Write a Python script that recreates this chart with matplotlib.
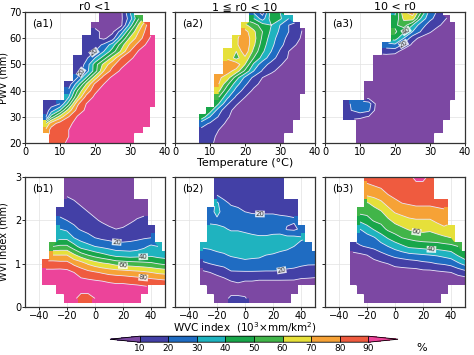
import numpy as np
import matplotlib
matplotlib.use('Agg')
import matplotlib.pyplot as plt
from matplotlib.colors import ListedColormap, BoundaryNorm

plt.rcParams['font.family'] = ['DejaVu Sans', 'Noto Sans CJK JP']

n = np.nan

# --- 上段: 温度 (°C) x PWV (mm), 出现频率 (%) ---
temp = [6, 7.5, 10, 12.5, 15, 17.5, 20, 22.5, 25, 27.5, 30, 32.5, 35, 36.5]
pwv = [20, 22.5, 25, 27.5, 30, 32.5, 35, 37.5, 40, 42.5, 45, 47.5, 50,
       52.5, 55, 57.5, 60, 62.5, 65, 67.5, 70]

a1 = [
    [n, 85, 87, 92, 98, 98, 98, 98, 98, 98, 98, n, n, n],
    [n, 84, 86, 90, 96, 98, 98, 98, 98, 98, 98, n, n, n],
    [72, 84, 86, 90, 95, 98, 98, 98, 98, 98, 98, 98, n, n],
    [60, 75, 84, 88, 93, 98, 98, 98, 98, 98, 98, 98, 98, n],
    [20, 45, 65, 80, 91, 95, 98, 98, 98, 98, 98, 98, 98, n],
    [15, 25, 40, 65, 84, 92, 98, 98, 98, 98, 98, 98, 98, n],
    [12, 15, 20, 45, 78, 90, 95, 98, 98, 98, 98, 98, 98, 98],
    [n, n, n, 30, 60, 84, 92, 95, 98, 98, 98, 98, 98, 98],
    [n, n, n, 22, 50, 72, 88, 94, 98, 98, 98, 98, 98, 98],
    [n, n, n, 15, 35, 60, 82, 90, 95, 98, 98, 98, 98, 98],
    [n, n, n, n, 20, 40, 65, 84, 92, 96, 98, 98, 98, 98],
    [n, n, n, n, 15, 25, 45, 70, 84, 92, 96, 98, 98, 98],
    [n, n, n, n, 12, 23, 45, 63, 77, 87, 93, 96, 98, 98],
    [n, n, n, n, 12, 18, 30, 45, 63, 80, 88, 94, 97, 98],
    [n, n, n, n, n, 15, 20, 30, 45, 62, 80, 91, 96, 98],
    [n, n, n, n, n, 15, 15, 22, 35, 55, 72, 84, 92, 96],
    [n, n, n, n, n, 14, 12, 8, 15, 40, 62, 75, 88, 93],
    [n, n, n, n, n, n, 12, 8, 8, 25, 50, 70, 85, n],
    [n, n, n, n, n, n, 8, 6, 6, 8, 35, 62, 82, n],
    [n, n, n, n, n, n, n, 5, 5, 8, 25, 50, n, n],
    [n, n, n, n, n, n, n, 5, 5, 8, 30, n, n, n],
]

a2 = [
    [n, 15, 12, 7, 4, 3, 3, 3, 3, 3, 3, n, n, n],
    [n, 16, 13, 8, 4, 3, 3, 3, 3, 3, 3, n, n, n],
    [n, 18, 15, 10, 5, 3, 3, 3, 3, 3, 3, 3, n, n],
    [n, 24, 19, 14, 8, 4, 3, 3, 3, 3, 3, 3, n, n],
    [n, 48, 30, 19, 11, 6, 3, 3, 3, 3, 3, 3, 3, n],
    [n, n, 45, 24, 13, 7, 4, 3, 3, 3, 3, 3, 3, n],
    [n, n, n, 40, 21, 11, 6, 3, 3, 3, 3, 3, 3, n],
    [n, n, n, 50, 32, 18, 10, 5, 3, 3, 3, 3, 3, n],
    [n, n, n, 62, 42, 26, 16, 8, 4, 3, 3, 3, 3, 3],
    [n, n, n, 70, 52, 34, 22, 13, 7, 3, 3, 3, 3, 3],
    [n, n, n, 72, 65, 45, 28, 18, 10, 6, 3, 3, 3, 3],
    [n, n, n, n, 74, 66, 48, 30, 19, 12, 7, 3, 3, 3],
    [n, n, n, n, 77, 77, 60, 38, 24, 17, 11, 6, 3, 3],
    [n, n, n, n, 68, 56, 68, 50, 36, 24, 16, 9, 4, 3],
    [n, n, n, n, 66, 60, 77, 57, 42, 30, 19, 10, 6, 3],
    [n, n, n, n, n, 68, 78, 62, 45, 33, 23, 15, 9, 5],
    [n, n, n, n, n, 68, 77, 64, 48, 35, 25, 17, 12, 8],
    [n, n, n, n, n, n, 74, 62, 50, 38, 28, 20, 14, 9],
    [n, n, n, n, n, n, 62, 55, 45, 40, 30, 20, 15, n],
    [n, n, n, n, n, n, n, 40, 25, 45, 42, 30, n, n],
    [n, n, n, n, n, n, n, 28, 15, 45, 40, n, n, n],
]

a3 = [
    [n, n, 2, 2, 2, 2, 2, 2, 2, 2, 2, n, n, n],
    [n, n, 2, 2, 2, 2, 2, 2, 2, 2, 2, n, n, n],
    [n, n, 2, 2, 2, 2, 2, 2, 2, 2, 2, 2, n, n],
    [n, n, 4, 3, 2, 2, 2, 2, 2, 2, 2, 2, n, n],
    [11, 13, 12, 9, 3, 2, 2, 2, 2, 2, 2, 2, 2, n],
    [15, 20, 25, 22, 4, 2, 2, 2, 2, 2, 2, 2, 2, n],
    [12, 22, 28, 25, 5, 2, 2, 2, 2, 2, 2, 2, 2, n],
    [n, n, n, 6, 3, 2, 2, 2, 2, 2, 2, 2, 2, 2],
    [n, n, n, 3, 2, 2, 2, 2, 2, 2, 2, 2, 2, 2],
    [n, n, n, 3, 2, 2, 2, 2, 2, 2, 2, 2, 2, 2],
    [n, n, n, n, 2, 2, 2, 2, 2, 2, 2, 2, 2, 2],
    [n, n, n, n, 2, 2, 2, 2, 2, 2, 2, 2, 2, 2],
    [n, n, n, n, 3, 2, 2, 2, 2, 2, 2, 2, 2, 2],
    [n, n, n, n, 3, 4, 3, 2, 2, 2, 2, 2, 2, 2],
    [n, n, n, n, n, 15, 14, 5, 3, 2, 2, 2, 2, 2],
    [n, n, n, n, n, 25, 28, 18, 8, 3, 2, 2, 2, 2],
    [n, n, n, n, n, n, 45, 30, 14, 7, 4, 2, 2, 2],
    [n, n, n, n, n, n, 52, 42, 30, 19, 11, 5, 3, 2],
    [n, n, n, n, n, n, 48, 55, 40, 24, 16, 11, 6, 3],
    [n, n, n, n, n, n, 42, 62, 65, 38, 22, 16, 9, n],
    [n, n, n, n, n, n, 38, 68, 76, 50, 25, 18, n, n],
]

# --- 下段: WVC index x WVI index ---
wvc = [-35, -30, -25, -20, -15, -10, -5, 0, 5, 10, 15, 20, 25, 30, 35, 40, 45, 50]
wvi = [0.2, 0.4, 0.6, 0.8, 1.0, 1.2, 1.4, 1.6, 1.8, 2.0, 2.2, 2.4, 2.6, 2.8, 3.0]

b1 = [
    [n, n, n, 95, 92, 86, 86, 90, 94, 95, 95, 95, 95, 94, n, n, n, n],
    [n, n, 97, 96, 95, 93, 93, 94, 95, 95, 95, 95, 95, 95, 94, n, n, n],
    [95, 96, 96, 95, 94, 93, 92, 91, 90, 89, 88, 88, 87, 86, 85, 84, 83, 82],
    [93, 93, 94, 93, 90, 85, 83, 81, 79, 77, 76, 75, 74, 73, 72, 70, 68, 67],
    [85, 85, 84, 84, 78, 75, 69, 65, 62, 60, 57, 56, 55, 54, 53, 52, 50, 48],
    [n, 70, 70, 70, 62, 55, 50, 46, 43, 40, 37, 36, 35, 36, 37, 38, 36, 35],
    [n, 50, 52, 52, 44, 36, 33, 30, 28, 26, 24, 24, 24, 25, 28, 32, 30, n],
    [n, n, 37, 37, 30, 26, 23, 20, 18, 17, 16, 16, 17, 18, 19, 20, n, n],
    [n, n, 30, 28, 22, 19, 17, 15, 13, 11, 10, 10.5, 12, 13, 14, 15, n, n],
    [n, n, 22, 20, 18, 15, 14, 11, 9, 8, 8, 8, 9, 10.5, 11, n, n, n],
    [n, n, 17, 17, 15, 12, 10, 8, 7, 6, 6, 6, 7, 8, 9, n, n, n],
    [n, n, n, 13, 11, 9, 8, 6, 6, 5, 5, 5, 6, 6, 7, n, n, n],
    [n, n, n, 9, 8, 7, 6, 5, 5, 5, 5, 5, 5, n, n, n, n, n],
    [n, n, n, 6, 6, 5, 5, 5, 5, 5, 5, 5, 5, n, n, n, n, n],
    [n, n, n, 5, 5, 5, 5, 5, 5, 5, 5, 5, 5, n, n, n, n, n],
]

b2 = [
    [n, n, n, 6, 7, 12, 12, 11, 6, 5, 5, 5, 5, 5, n, n, n, n],
    [n, n, 5, 5, 5, 6, 6, 6, 5, 5, 5, 5, 5, 5, 5, n, n, n],
    [n, 6, 6, 6, 7, 10, 11, 10, 10, 9, 9, 9, 9, 9, 9, 8, 8, 8],
    [n, 8, 10, 12, 15, 19, 19, 19, 19, 19, 19, 19, 19, 18, 17, 15, 14, 13],
    [n, 18, 20, 22, 23, 25, 26, 27, 27, 26, 25, 25, 24, 23, 23, 22, 21, 21],
    [n, 26, 26, 28, 29, 31, 32, 33, 32, 32, 30, 29.5, 28, 27, 26, 25, 24, 23],
    [n, 31, 32, 33, 34, 35, 35, 35, 35, 34, 33, 33, 33, 32, 30, 28, 27, n],
    [n, n, 35, 35, 35, 34, 34, 33, 32, 31, 31, 32, 33, 33, 33, 31, n, n],
    [n, n, 33, 32, 31, 29, 29, 28, 27, 27, 27, 27, 26, 19, 18, 22, n, n],
    [n, n, 28, 28, 27, 26, 25, 24, 24, 23, 23, 23, 23, 22, 21, n, n, n],
    [n, n, 26, 33, 26, 23, 22, 20, 19, 19, 19, 19, 18, 18, 18, n, n, n],
    [n, n, n, 32, 22, 19, 18, 17, 16, 16, 16, 16, 16, 16, 16, n, n, n],
    [n, n, n, 19, 17, 16, 15, 15, 14, 14, 14, 14, 14, n, n, n, n, n],
    [n, n, n, 16, 15, 14, 13, 13, 13, 13, 13, 13, 13, n, n, n, n, n],
    [n, n, n, 15, 14, 13, 12, 12, 12, 12, 12, 12, 12, n, n, n, n, n],
]

b3 = [
    [n, n, n, 2, 2, 2, 2, 2, 2, 2, 2, 2, 2, 2, n, n, n, n],
    [n, n, 2, 2, 2, 2, 2, 2, 2, 2, 2, 2, 2, 2, 2, n, n, n],
    [n, 2, 3, 3, 3, 3, 3, 3, 3, 3, 3, 3, 3, 3, 3, 3, 4, 4],
    [n, 3, 4, 4, 4, 5, 5, 6, 6, 6, 6, 7, 7, 8, 9, 10, 13, 16],
    [n, 4, 5, 6, 7, 8, 10, 12, 13, 14, 15, 17, 18, 20, 21, 23, 28, 33],
    [n, 7, 8, 10, 13, 17, 20, 23, 25, 27, 28, 29, 30, 31, 33, 35, 41, 47],
    [n, 16, 19, 21, 23, 26, 30, 34, 38, 42, 43, 44, 45, 45, 46, 47, 50, n],
    [n, n, 25, 26, 29, 35, 41, 46, 50, 52, 54, 55, 55, 56, 58, 60, n, n],
    [n, n, 30, 35, 41, 46, 52, 55, 58, 61, 63, 63, 62, 65, 68, 66, n, n],
    [n, n, 42, 46, 51, 53, 58, 63, 66, 68, 69, 69, 69, 72, 74, n, n, n],
    [n, n, 53, 53, 56, 59, 66, 71, 73, 75, 76, 76, 76, 78, 79, n, n, n],
    [n, n, n, 59, 63, 68, 73, 77, 80, 81, 82, 82, 82, 82, 82, n, n, n],
    [n, n, n, 72, 74, 75, 80, 83, 84, 85, 85, 85, 85, n, n, n, n, n],
    [n, n, n, 78, 80, 82, 84, 85, 86, 87, 88, 88, 87, n, n, n, n, n],
    [n, n, n, 85, 85, 85, 86, 86, 87, 88, 92, 92, 88, n, n, n, n, n],
]

levels = [10, 20, 30, 40, 50, 60, 70, 80, 90]
band_colors = ['#4340a6', '#1f6cc2', '#1fb3bf', '#18a64a', '#41b549',
               '#e6e03a', '#f6a236', '#ef5b3f']
under_color = '#7c48a3'
over_color = '#ec449a'
line_color = '#ebe6f7'

titles = ['r0 <1', '1 \u2266 r0 < 10', '10 < r0']
top_tags = ['(a1)', '(a2)', '(a3)']
bot_tags = ['(b1)', '(b2)', '(b3)']

# 等值线标注的位置 (在各面板里)
top_label_pts = [[(20, 54), (16.7, 46)], [], [(23.3, 62.5), (22.3, 58.3)]]
top_label_lv = [[20], [], [20, 40]]
bot_label_pts = [[(15.5, 1.47), (34.5, 1.14), (20, 0.96), (34.5, 0.69)],
                 [(10.7, 2.14), (26.2, 0.84)],
                 [(15.2, 1.66), (26, 1.31)]]
bot_label_lv = [[20, 40, 60, 80], [20], [40, 60]]

cmap = ListedColormap(band_colors)
cmap.set_under(under_color)
cmap.set_over(over_color)
norm = BoundaryNorm(levels, cmap.N)


def draw_panel(ax, x, y, z, pts, lv):
    zz = np.ma.masked_invalid(np.array(z, dtype=float))
    # 格点块作底 (边缘呈阶梯状), 上面再叠平滑的填色等值线
    ax.pcolormesh(x, y, zz, cmap=cmap, norm=norm, shading='nearest', zorder=1)
    cf = ax.contourf(x, y, zz, levels=levels, cmap=cmap, norm=norm, extend='both',
                     zorder=1.5, antialiased=True)
    rest = [l for l in levels if l not in lv]
    ax.contour(x, y, zz, levels=rest, colors=line_color, linewidths=0.6, zorder=2)
    if pts:
        cs = ax.contour(x, y, zz, levels=lv, colors=line_color, linewidths=0.6, zorder=2)
        txts = ax.clabel(cs, manual=pts, inline=True, fontsize=5,
                         fmt='%d', inline_spacing=1, colors='#333333')
        for t in txts:
            t.set_bbox(dict(boxstyle='square,pad=0.05', fc='white', ec='none', alpha=0.85))
    ax.grid(True, color='#e2e2e2', linewidth=0.5)
    ax.set_axisbelow(True)
    ax.tick_params(labelsize=7, length=2, width=0.6, pad=0.5)
    for s in ax.spines.values():
        s.set_linewidth(0.9)
        s.set_color('#333333')
    return cf


fig = plt.figure(figsize=(4.74, 3.55), dpi=100)
lefts = [25 / 474, 175 / 474, 325 / 474]
w = 140 / 474

for i in range(3):
    ax = fig.add_axes([lefts[i], 0.597, w, 0.369])
    cf = draw_panel(ax, temp, pwv, [a1, a2, a3][i], top_label_pts[i], top_label_lv[i])
    ax.set_xlim(0, 40)
    ax.set_ylim(20, 70)
    ax.set_xticks([0, 10, 20, 30, 40])
    ax.set_yticks([20, 30, 40, 50, 60, 70])
    ax.set_title(titles[i], fontsize=8, pad=1.5)
    ax.text(0.05, 0.95, top_tags[i], transform=ax.transAxes, va='top', fontsize=7.5)
    if i == 0:
        ax.set_ylabel('PWV (mm)', fontsize=7)
        ax.yaxis.set_label_coords(-0.115, 0.5)
    else:
        ax.set_yticklabels([])
    if i == 1:
        ax.set_xlabel('Temperature (\u00b0C)', fontsize=8, labelpad=1)

for i in range(3):
    ax = fig.add_axes([lefts[i], 0.135, w, 0.366])
    cf = draw_panel(ax, wvc, wvi, [b1, b2, b3][i], bot_label_pts[i], bot_label_lv[i])
    ax.set_xlim(-50, 50)
    ax.set_ylim(0, 3)
    ax.set_xticks([-40, -20, 0, 20, 40])
    ax.set_yticks([0, 1, 2, 3])
    ax.text(0.05, 0.95, bot_tags[i], transform=ax.transAxes, va='top', fontsize=7.5)
    if i == 0:
        ax.set_ylabel('WVI index (mm)', fontsize=7)
        ax.yaxis.set_label_coords(-0.115, 0.5)
    else:
        ax.set_yticklabels([])
    if i == 1:
        ax.set_xlabel('WVC index  (10$^3$\u00d7mm/km$^2$)', fontsize=7.5, labelpad=0)

cax = fig.add_axes([110 / 474, 0.036, 288 / 474, 0.017])
cb = fig.colorbar(cf, cax=cax, orientation='horizontal', ticks=levels,
                  drawedges=True, extendfrac=0.13)
cb.ax.tick_params(labelsize=6.5, length=0, pad=1)
cb.outline.set_linewidth(0.6)
cb.dividers.set_linewidth(0.6)
fig.text(422 / 474, 1 - 348 / 355, '%', fontsize=8, ha='center', va='center')

fig.savefig('out.png', dpi=100)
